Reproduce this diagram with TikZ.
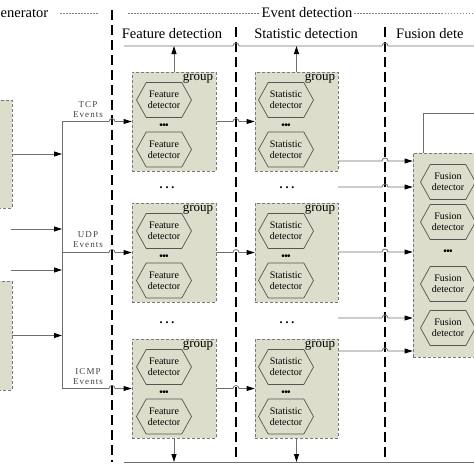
\documentclass[tikz,border=0pt]{standalone}
\usepackage{fontspec}
\setmainfont{Liberation Serif}
\usetikzlibrary{arrows.meta,shapes.symbols,calc}
\definecolor{grpfill}{RGB}{220,221,202}
\definecolor{grpedge}{RGB}{120,120,120}
\definecolor{hexedge}{RGB}{85,85,85}
\definecolor{connc}{RGB}{110,110,110}
\begin{document}
\begin{tikzpicture}[x=1pt,y=-1pt,
  grp/.style={draw=grpedge, dash pattern=on 3pt off 2pt, fill=grpfill, inner sep=0pt, line width=0.8pt},
  fgrp/.style={grp, minimum width=84pt, minimum height=99pt},
  sgrp/.style={grp, minimum width=83pt, minimum height=99pt},
  grplabel/.style={font=\fontsize{13}{13}\selectfont, inner sep=0pt, anchor=north east},
  hexa/.style={signal, signal to=east and west, signal pointer angle=122, draw=hexedge, fill=grpfill, line width=0.7pt, minimum width=55pt, minimum height=35pt, inner sep=0pt, align=center, font=\fontsize{10}{11}\selectfont},
  gdots/.style={font=\fontsize{10}{10}\selectfont\bfseries, inner sep=0pt},
  sdots/.style={font=\fontsize{8.5}{8}\selectfont, inner sep=0pt},
  hdr/.style={font=\fontsize{14.5}{15}\selectfont, inner sep=2pt},
  evlabel/.style={font=\fontsize{9}{10}\selectfont\addfontfeatures{LetterSpace=12}, align=center, inner sep=0pt, text=black!75},
  conn/.style={draw=connc, line width=0.8pt},
  arr/.style={conn, -{Triangle[length=8pt,width=5pt,color=black]}},
  sep/.style={draw=black, line width=1.5pt, dash pattern=on 10pt off 5pt},
  dotln/.style={draw=gray, line width=0.6pt, dash pattern=on 1.5pt off 1.5pt}
]
\useasboundingbox (0,0) rectangle (474,474);

% separators
\draw[sep] (112,10) -- (112,462);
\draw[sep] (236,27) -- (236,462);
\draw[sep] (385,27) -- (385,462);

% headers
\node[hdr, anchor=west, inner sep=0pt] (gen) at (0.5,13) {enerator};
\coordinate (d1a) at (60,13); \coordinate (d1b) at (98,13);
\draw[dotln] (d1a) -- (d1b);
\node[hdr] (evt) at (307,13) {Event detection};
\coordinate (d2a) at (128,13); \coordinate (d2b) at (476,13);
\draw[dotln] (d2a) -- (evt.west);
\draw[dotln] (evt.east) -- (d2b);
\node[hdr] (hf) at (172,34) {Feature detection};
\node[hdr] (hs) at (306,34) {Statistic detection};
\node[hdr, anchor=west] (hu) at (394,34) {Fusion dete};

% left boxes
\node[grp, minimum width=24pt, minimum height=108pt] (in1) at (0,154) {};
\node[grp, minimum width=24pt, minimum height=109pt] (in3) at (0,335.5) {};

% feature groups
\foreach \n/\y in {1/121.5, 2/252.5, 3/388.5}{
  \node[fgrp] (fg\n) at (174,\y) {};
  \node[grplabel] at ($(fg\n.north east)+(-3,2)$) {group};
  \node[hexa] (fh\n a) at (164,\y-21.5) {Feature\\detector};
  \node[gdots] (fd\n) at (164,\y+4.5) {•\kern-0.6pt•\kern-0.6pt•};
  \node[hexa] (fh\n b) at (164,\y+28) {Feature\\detector};
  \node[sgrp] (sg\n) at (296.5,\y) {};
  \node[grplabel] at ($(sg\n.north east)+(-3,2)$) {group};
  \node[hexa] (sh\n a) at (286,\y-21.5) {Statistic\\detector};
  \node[gdots] (sd\n) at (286,\y+4.5) {•\kern-0.6pt•\kern-0.6pt•};
  \node[hexa] (sh\n b) at (286,\y+28) {Statistic\\detector};
}
\node[sdots] (fdd1) at (167,189) {•\,\,•\,\,•};
\node[sdots] (fdd2) at (167,324) {•\,\,•\,\,•};
\node[sdots] (sdd1) at (287,189) {•\,\,•\,\,•};
\node[sdots] (sdd2) at (287,324) {•\,\,•\,\,•};

% fusion group
\node[grp, minimum width=90pt, minimum height=204pt] (fus) at (458,255) {};
\node[hexa] (uh1) at (448,182) {Fusion\\detector};
\node[hexa] (uh2) at (448,222) {Fusion\\detector};
\node[gdots] (ud) at (448,252) {•\kern-0.6pt•\kern-0.6pt•};
\node[hexa] (uh3) at (448,284) {Fusion\\detector};
\node[hexa] (uh4) at (448,328) {Fusion\\detector};

% top and bottom collector lines
\coordinate (topL) at (124,46); \coordinate (topR) at (480,46);
\draw[conn] (topL) -- (233,46) arc[start angle=180,end angle=360,radius=3] -- (382,46) arc[start angle=180,end angle=360,radius=3] -- (topR);
\draw[arr] (fg1.north) -- (fg1.north |- topL);
\draw[arr] (sg1.north) -- (sg1.north |- topL);
\coordinate (botL) at (124,462); \coordinate (botR) at (480,462);
\draw[conn] (botL) -- (botR);
\draw[arr] (fg3.south) -- (fg3.south |- botL);
\draw[arr] (sg3.south) -- (sg3.south |- botL);

% fusion output line
\coordinate (fo1) at (423,113); \coordinate (fo2) at (480,113);
\draw[conn] (fus.north -| fo1) -- (fo1) -- (fo2);

% generator side
\coordinate (bus1) at (62,121.5); \coordinate (bus2) at (62,252.5); \coordinate (bus3) at (62,388.5);
\draw[conn] (bus1) -- (bus3);
\coordinate (g2) at (11,229); \coordinate (g3) at (11,270);
\draw[arr] (in1.east) -- (in1.east -| bus1);
\draw[arr] (g2) -- (g2 -| bus1);
\draw[arr] (g3) -- (g3 -| bus1);
\draw[arr] (in3.east) -- (in3.east -| bus1);
\foreach \n in {1,2,3}{
  \draw[arr] (bus\n) -- ($(bus\n -| 112,0)+(-3,0)$) arc[start angle=180,end angle=360,radius=3] -- (fg\n.west);
  \draw[arr] (fg\n.east) -- ($(fg\n.east -| 236,0)+(-3,0)$) arc[start angle=180,end angle=360,radius=3] -- (sg\n.west);
}
\node[evlabel] (l1) at (88,110) {TCP\\Events};
\node[evlabel] (l2) at (88,240) {UDP\\Events};
\node[evlabel] (l3) at (88,377) {ICMP\\Events};

% statistic to fusion
\coordinate (s1) at (338,161);
\coordinate (s2) at (338,187);
\coordinate (s3) at (338,252);
\coordinate (s4) at (338,318);
\coordinate (s5) at (338,351);
\foreach \k in {1,...,5}{
  \draw[arr] (s\k) -- ($(s\k -| 385,0)+(-3,0)$) arc[start angle=180,end angle=360,radius=3] -- (s\k -| fus.west);
}
\end{tikzpicture}
\end{document}
